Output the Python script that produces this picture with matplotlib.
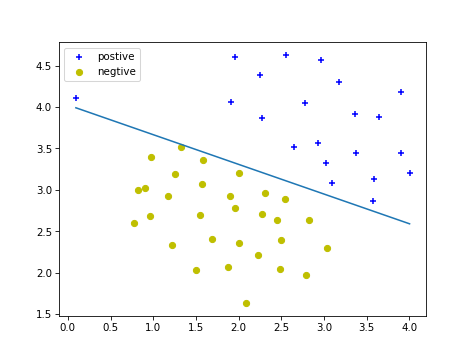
import numpy as np
import matplotlib
matplotlib.use('Agg')
import matplotlib.pyplot as plt

# positive samples
pos_x = [0.094, 1.963, 1.916, 2.553, 2.968, 2.256, 3.179, 3.906, 2.778, 2.276, 3.363,
         3.648, 2.651, 2.929, 3.378, 3.906, 3.030, 4.004, 3.100, 3.593, 3.570]
pos_y = [4.105, 4.600, 4.066, 4.629, 4.572, 4.380, 4.300, 4.183, 4.050, 3.870, 3.913,
         3.877, 3.516, 3.560, 3.440, 3.440, 3.320, 3.200, 3.078, 3.130, 2.860]

# negative samples
neg_x = [1.322, 0.974, 1.584, 1.255, 2.010, 1.568, 0.821, 0.907, 1.177, 1.897,
         1.955, 0.966, 1.548, 0.774, 1.689, 2.010, 1.224, 1.497, 1.877, 2.090,
         2.315, 2.540, 2.280, 2.452, 2.827, 2.502, 3.038, 2.229, 2.487, 2.790]
neg_y = [3.516, 3.395, 3.364, 3.195, 3.207, 3.075, 3.000, 3.027, 2.930, 2.920,
         2.780, 2.690, 2.696, 2.600, 2.412, 2.359, 2.330, 2.030, 2.066, 1.629,
         2.966, 2.894, 2.710, 2.640, 2.636, 2.395, 2.300, 2.210, 2.046, 1.974]

# decision boundary y = b + k*x
b = 4.024
k = -0.358

fig = plt.figure(figsize=(6.4, 4.8), dpi=74)
plt.scatter(pos_x, pos_y, marker='+', c='b', label='postive')
plt.scatter(neg_x, neg_y, marker='o', c='y', label='negtive')
all_x = pos_x + neg_x
xs = np.array([min(all_x), max(all_x)])
plt.plot(xs, b + k * xs)
plt.legend(loc='upper left')
plt.savefig('out.png', dpi=74)
